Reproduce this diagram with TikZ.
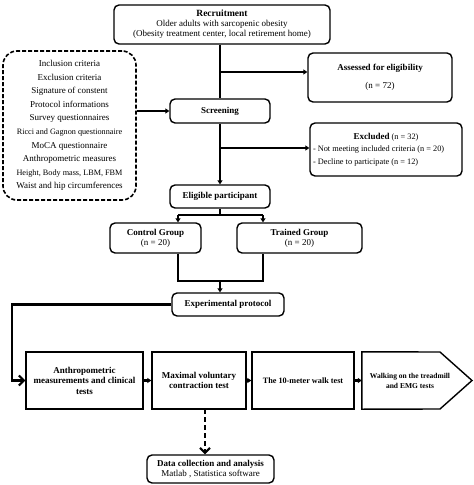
\documentclass[tikz,border=0pt]{standalone}
\usepackage{fontspec}
\setmainfont{Liberation Serif}
\usetikzlibrary{arrows.meta,calc}
\begin{document}
\begin{tikzpicture}[x=1pt,y=-1pt,
  rbox/.style={draw,line width=1.4pt,rounded corners=5pt,inner sep=0pt,align=center,font=\fontsize{9}{10}\selectfont},
  sbox/.style={draw,line width=1.4pt,inner sep=0pt,align=center,minimum height=57pt,font=\bfseries\fontsize{9}{10.5}\selectfont},
  conn/.style={line width=2.2pt,-{Triangle[length=4pt,width=5pt]}},
  plain/.style={line width=2.2pt},
  chev/.style={line width=2.2pt,-{Straight Barb[length=5pt,width=10pt,line width=2pt]}}
]
\useasboundingbox (0,0) rectangle (474,485);

\node[rbox,minimum width=216pt,minimum height=39pt] (rec) at (222,24.5)
  {{\bfseries\fontsize{9.5}{10}\selectfont Recruitment}\\Older adults with sarcopenic obesity\\(Obesity treatment center, local retirement home)};

\node[rbox,minimum width=144pt,minimum height=49pt] (ass) at (380,77.5)
  {\textbf{Assessed for eligibility}\\[8pt](n = 72)};

\node[draw,dashed,dash pattern=on 4pt off 2pt,line width=1.6pt,rounded corners=14pt,minimum width=133pt,minimum height=149pt,inner sep=0pt,align=center,font=\fontsize{9}{13.6}\selectfont] (crit) at (69.5,125.5)
  {Inclusion criteria\\Exclusion criteria\\Signature of constent\\Protocol informations\\Survey questionnaires\\{\fontsize{8.2}{13.6}\selectfont Ricci and Gagnon questionnaire}\\MoCA questionnaire\\Anthropometric measures\\{\fontsize{8.2}{13.6}\selectfont Height, Body mass, LBM, FBM}\\Waist and hip circumferences};

\node[rbox,minimum width=100pt,minimum height=24pt] (scr) at (220,111) {\textbf{Screening}};

\node[rbox,minimum width=152pt,minimum height=53pt,align=left,font=\fontsize{8.3}{12.5}\selectfont] (exc) at (386,149.5)
  {\makebox[146pt]{{\bfseries\fontsize{9}{10}\selectfont Excluded} (n = 32)}\\- Not meeting included criteria (n = 20)\\- Decline to participate (n = 12)};

\node[rbox,minimum width=100pt,minimum height=23pt] (elig) at (220,196.5) {\textbf{Eligible participant}};

\node[rbox,minimum width=91pt,minimum height=30pt] (ctrl) at (155.5,238) {\textbf{Control Group}\\(n = 20)};
\node[rbox,minimum width=125pt,minimum height=30pt] (trn) at (299.5,238) {\textbf{Trained Group}\\(n = 20)};

\node[rbox,minimum width=112pt,minimum height=23pt] (exp) at (228,304.5) {\textbf{Experimental protocol}};

\node[sbox,minimum width=117pt] (anth) at (84.5,380.5) {Anthropometric\\measurements and clinical\\tests};
\node[sbox,minimum width=94pt] (max) at (199,380.5) {Maximal voluntary\\contraction test};
\node[sbox,minimum width=102pt,font=\bfseries\fontsize{8.2}{10}\selectfont] (walk) at (303,380.5) {The 10-meter walk test};
\node[inner sep=0pt,minimum width=96pt,minimum height=57pt,align=center,font=\bfseries\fontsize{7.5}{10}\selectfont] (tread) at (410,380.5) {Walking on the treadmill\\and EMG tests};
\draw[line width=1.4pt] (tread.north west) -- (440,352) -- (472,380.5) -- (440,409) -- (tread.south west) -- cycle;

\node[rbox,minimum width=127pt,minimum height=28pt] (data) at (210.5,469) {\textbf{Data collection and analysis}\\Matlab , Statistica software};

% connectors
\coordinate (b1) at (220,72);
\coordinate (b2) at (220,148);
\draw[plain] (rec.south -| scr.north) -- (scr.north);
\draw[conn] (b1) -- (b1 -| ass.west);
\draw[conn] (crit.east |- scr.west) -- (scr.west);
\draw[conn] (scr.south) -- (elig.north);
\draw[conn] (b2) -- (b2 -| exc.west);

\coordinate (s0) at (220,215);
\coordinate (s1) at (178,215);
\coordinate (s2) at (263,215);
\draw[plain] (elig.south) -- (s0);
\draw[plain] (s1) -- (s2);
\draw[conn] (s1) -- (s1 |- ctrl.north);
\draw[conn] (s2) -- (s2 |- trn.north);

\coordinate (j0) at (220,281);
\coordinate (j1) at (178,281);
\coordinate (j2) at (263,281);
\draw[plain] (j1 |- ctrl.south) -- (j1) -- (j2) -- (j2 |- trn.south);
\draw[conn] (j0) -- (j0 |- exp.north);

\coordinate (L) at (12,380.5);
\draw[chev] (exp.west) -- (exp.west -| L) -- (L) -- (anth.west);

\draw[conn] (anth.east) -- (max.west);
\draw[conn] (max.east) -- (walk.west);
\draw[conn] (walk.east) -- (tread.west);

\coordinate (d0) at (205,409);
\draw[line width=2.2pt,dash pattern=on 5pt off 3pt,-{Straight Barb[length=5pt,width=10pt,line width=2pt]}] (d0) -- (d0 |- data.north);
\end{tikzpicture}
\end{document}
